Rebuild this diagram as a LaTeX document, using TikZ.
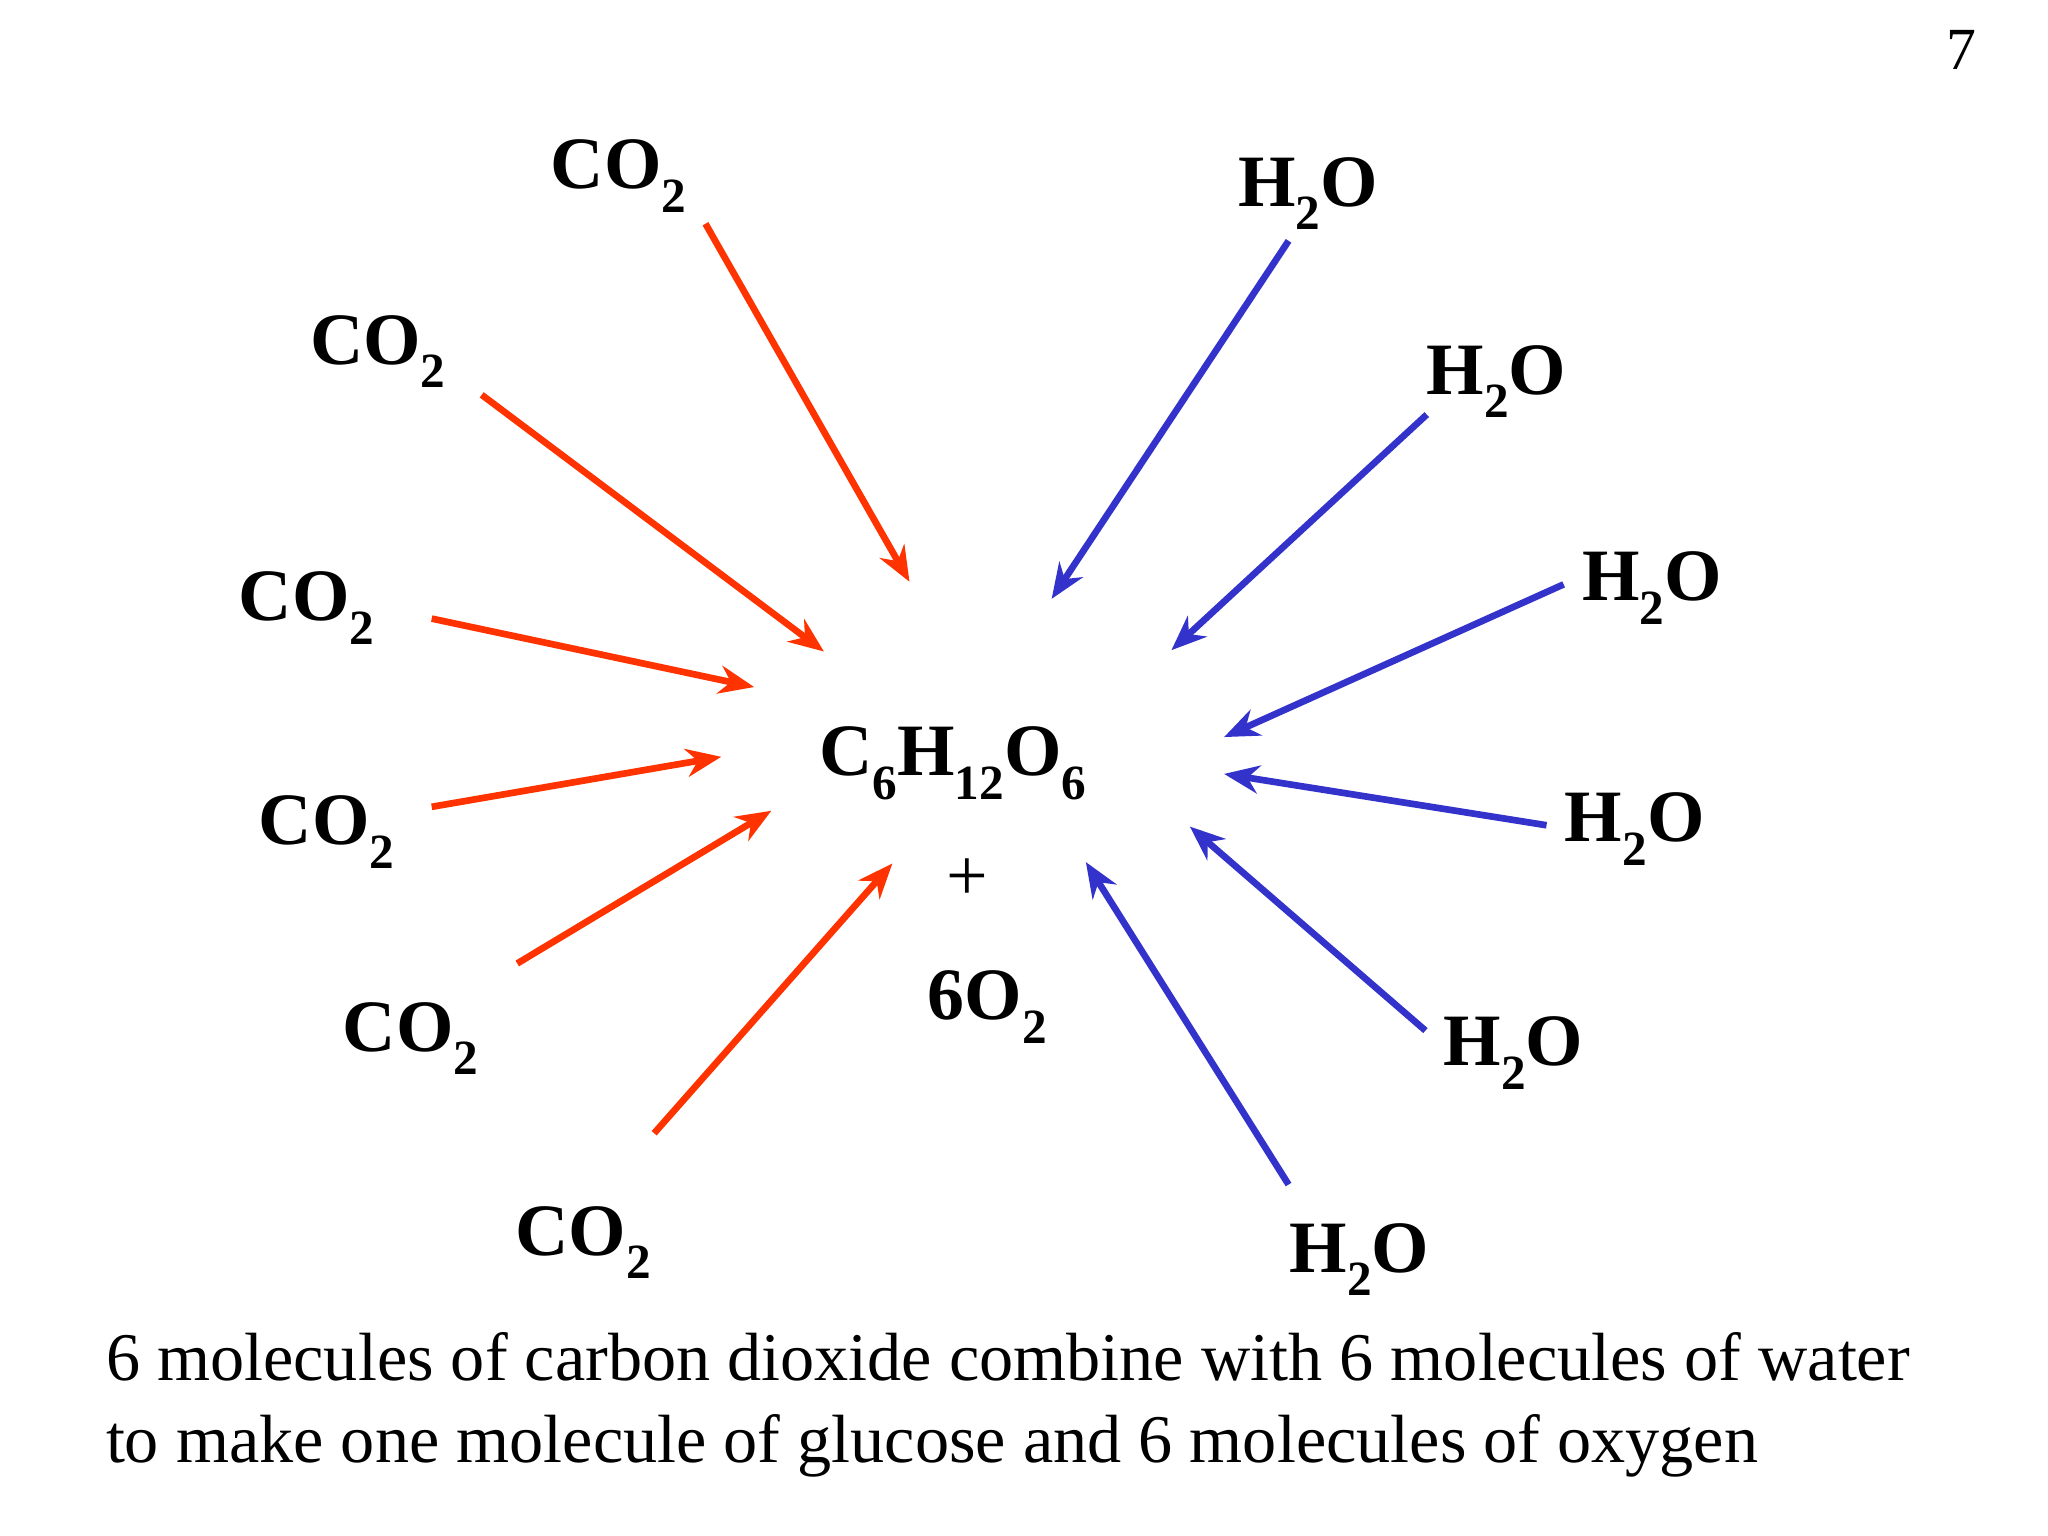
\documentclass[tikz,border=0pt]{standalone}
\usepackage{fontspec}
\setmainfont{Liberation Serif}
\usetikzlibrary{arrows.meta}
\definecolor{cored}{HTML}{FF3300}
\definecolor{waterblue}{HTML}{3333CC}
\newcommand{\sbs}[1]{\raisebox{-0.32em}{\fontsize{14}{16}\selectfont\bfseries #1}}
\begin{document}
\begin{tikzpicture}[x=0.01316cm,y=-0.01316cm,
  mol/.style={font=\fontsize{21}{25}\selectfont\bfseries},
  rarr/.style={draw=cored,line width=1.9pt,-{Stealth[length=10pt,width=8pt]}},
  barr/.style={draw=waterblue,line width=1.9pt,-{Stealth[length=10pt,width=8pt]}}]
\useasboundingbox (0,0) rectangle (1556,1167);
\node[font=\fontsize{17}{20}\selectfont] (pg) at (1490,38) {7};
\node[mol] (glu) at (724,580) {C\sbs{6}H\sbs{12}O\sbs{6}};
\node[font=\fontsize{21}{25}\selectfont] (plus) at (735,668) {+};
\node[mol] (ox) at (750,765) {6O\sbs{2}};
\foreach \i/\x/\y in {1/470/134,2/287/267,3/233/462,4/248/632,5/312/789,6/443/944}
  \node[mol] (c\i) at (\x,\y) {CO\sbs{2}};
\foreach \i/\x/\y in {1/994/147,2/1137/290,3/1255/447,4/1242/630,5/1150/800,6/1033/957}
  \node[mol] (h\i) at (\x,\y) {H\sbs{2}O};
\foreach \i/\a/\b/\c/\d in {1/536/170/691/442,2/366/300/626/495,3/328/470/573/522,4/328/613/548/575,5/393/732/586/616,6/497/861/678/656}{
  \coordinate (ct\i) at (\a,\b); \coordinate (ch\i) at (\c,\d);
  \draw[rarr] (ct\i) -- (ch\i);}
\foreach \i/\a/\b/\c/\d in {1/979/183/799/455,2/1084/315/890/494,3/1188/444/930/560,4/1175/627/930/588,5/1083/783/904/628,6/979/900/825/655}{
  \coordinate (ht\i) at (\a,\b); \coordinate (hh\i) at (\c,\d);
  \draw[barr] (ht\i) -- (hh\i);}
\node[anchor=north west,align=left,font=\fontsize{19.4}{23.2}\selectfont,inner sep=0] (cap) at (80,1012)
  {6 molecules of carbon dioxide combine with 6 molecules of water\\to make one molecule of glucose and 6 molecules of oxygen};
\end{tikzpicture}
\end{document}
